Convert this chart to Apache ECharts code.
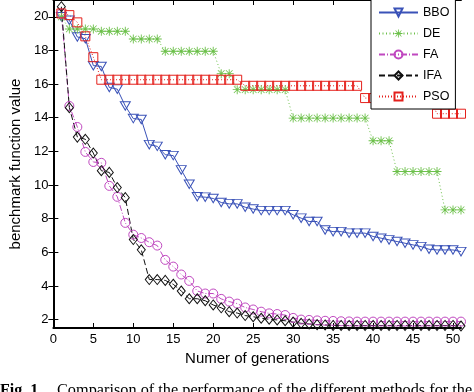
<!DOCTYPE html>
<html>
<head>
<meta charset="utf-8">
<script src="https://cdn.jsdelivr.net/npm/echarts@6/dist/echarts.min.js"></script>
<style>
html,body{margin:0;padding:0;background:#fff;}
#chart{width:474px;height:392px;}
</style>
</head>
<body>
<div id="chart"></div>
<script>
var gens = [1,2,3,4,5,6,7,8,9,10,11,12,13,14,15,16,17,18,19,20,21,22,23,24,25,26,27,28,29,30,31,32,33,34,35,36,37,38,39,40,41,42,43,44,45,46,47,48,49,50,51];
var xTicks = [0,5,10,15,20,25,30,35,40,45,50];
var yTicks = [2,4,6,8,10,12,14,16,18,20];

var bbo = [20.0,19.8,18.8,18.7,17.1,17.05,15.8,15.7,14.7,13.95,13.9,12.4,12.3,11.8,11.75,10.9,10.05,9.3,9.28,9.2,8.96,8.88,8.88,8.68,8.57,8.48,8.48,8.48,8.48,8.23,8.03,7.83,7.83,7.33,7.23,7.23,7.14,7.14,7.14,6.94,6.84,6.74,6.64,6.54,6.44,6.34,6.18,6.14,6.14,6.14,6.04];
var de = [20.0,19.28,19.28,19.28,19.28,19.14,19.14,19.14,19.14,18.68,18.68,18.68,18.68,17.95,17.95,17.95,17.95,17.95,17.95,17.95,16.62,16.62,15.67,15.67,15.67,15.67,15.67,15.67,15.67,13.98,13.98,13.98,13.98,13.98,13.98,13.98,13.98,13.98,13.98,12.63,12.63,12.63,10.8,10.8,10.8,10.8,10.8,10.8,8.52,8.52,8.52];
var fa = [20.2,14.7,13.45,11.97,11.37,11.32,9.95,9.3,7.75,7.05,6.85,6.6,6.4,5.55,5.15,4.68,4.3,3.7,3.55,3.55,3.23,3.07,2.95,2.72,2.6,2.47,2.37,2.33,2.27,2.1,2.0,1.98,1.95,1.93,1.92,1.9,1.89,1.88,1.88,1.88,1.88,1.88,1.88,1.88,1.88,1.88,1.88,1.88,1.88,1.88,1.88];
var ifa = [20.6,14.6,12.85,12.72,11.9,10.85,10.75,9.85,9.25,6.76,6.15,4.38,4.38,4.33,4.1,3.7,3.24,3.24,3.12,2.87,2.7,2.47,2.39,2.24,2.17,2.08,2.02,1.98,1.93,1.85,1.78,1.74,1.7,1.68,1.65,1.65,1.65,1.65,1.65,1.65,1.65,1.65,1.65,1.65,1.65,1.65,1.65,1.65,1.65,1.65,1.62];
var pso = [20.2,20.1,19.67,18.84,17.6,16.26,16.26,16.26,16.26,16.26,16.26,16.26,16.26,16.26,16.26,16.26,16.26,16.26,16.26,16.26,16.26,16.26,16.26,15.9,15.9,15.9,15.9,15.9,15.9,15.9,15.9,15.9,15.9,15.9,15.9,15.9,15.9,15.9,15.17,15.17,15.17,15.17,15.17,15.17,15.17,15.17,15.17,14.24,14.24,14.24,14.24];

function pairs(vals){ return gens.map(function(g,i){ return [g, vals[i]]; }); }

var FONT = '"Liberation Sans", Arial, sans-serif';
var starPath = 'path://M4.5,0 L5.5,0 L5.5,4.5 L10,4.5 L10,5.5 L5.5,5.5 L5.5,10 L4.5,10 L4.5,5.5 L0,5.5 L0,4.5 L4.5,4.5 Z M1.6,1.0 L9.0,8.4 L8.4,9.0 L1.0,1.6 Z M8.4,1.0 L9.0,1.6 L1.6,9.0 L1.0,8.4 Z';
var triDown = 'path://M0,0 L10,0 L5,8.5 Z';

function mk(name, vals, color, lineType, symbol, size, fillSym){
  return {
    name: name, type: 'line', data: pairs(vals),
    symbol: symbol, symbolSize: size, showAllSymbol: true,
    lineStyle: {color: color, width: 1, type: lineType},
    itemStyle: fillSym ? {color: color, borderWidth: 0} : {color: 'transparent', borderColor: color, borderWidth: 1},
    emphasis: {disabled: true}
  };
}

var chart = echarts.init(document.getElementById('chart'), null, {renderer: 'canvas'});
var axisLineStyle = {color: '#000', width: 2};
chart.setOption({
  animation: false,
  backgroundColor: '#fff',
  grid: {left: 44, right: 13, top: -1, bottom: 64, containLabel: false},
  legend: {
    orient: 'vertical', left: 371, top: -2,
    padding: [8, 6, 6, 7],
    itemWidth: 39, itemHeight: 10, itemGap: 8,
    backgroundColor: '#fff', borderColor: '#000', borderWidth: 1,
    textStyle: {fontFamily: FONT, fontSize: 12.5, color: '#000'},
    data: ['BBO','DE','FA','IFA','PSO']
  },
  xAxis: [{
    type: 'value', min: 0, max: 51, position: 'bottom',
    name: 'Numer of generations', nameLocation: 'middle', nameGap: 20,
    nameTextStyle: {fontFamily: FONT, fontSize: 15, color: '#000'},
    axisLine: {lineStyle: axisLineStyle},
    axisTick: {inside: true, length: 5, customValues: xTicks, lineStyle: {color: '#000'}},
    axisLabel: {customValues: xTicks, fontFamily: FONT, fontSize: 13, color: '#000', margin: 5},
    splitLine: {show: false}
  },{
    type: 'value', min: 0, max: 51, position: 'top',
    axisLine: {lineStyle: axisLineStyle},
    axisTick: {inside: true, length: 5, customValues: xTicks, lineStyle: {color: '#000'}},
    axisLabel: {show: false},
    splitLine: {show: false}
  }],
  yAxis: [{
    type: 'value', min: 1.5, max: 21, position: 'left',
    name: 'benchmark function value', nameLocation: 'middle', nameGap: 25,
    nameTextStyle: {fontFamily: FONT, fontSize: 15, color: '#000'},
    axisLine: {show: true, lineStyle: axisLineStyle},
    axisTick: {show: true, inside: true, length: 5, customValues: yTicks, lineStyle: {color: '#000'}},
    axisLabel: {customValues: yTicks, fontFamily: FONT, fontSize: 13, color: '#000', margin: 5},
    splitLine: {show: false}
  },{
    type: 'value', min: 1.5, max: 21, position: 'right',
    axisLine: {show: true, lineStyle: axisLineStyle},
    axisTick: {show: true, inside: true, length: 5, customValues: yTicks, lineStyle: {color: '#000'}},
    axisLabel: {show: false},
    splitLine: {show: false}
  }],
  series: [
    mk('BBO', bbo, '#3a52b8', 'solid', triDown, [10, 8.5]),
    mk('DE', de, '#6cc04a', [1, 2.5], starPath, 9, true),
    mk('FA', fa, '#c048c0', [6, 2, 1, 2], 'circle', 9),
    mk('IFA', ifa, '#111111', [6, 3], 'diamond', [8, 10]),
    mk('PSO', pso, '#e4201c', [1, 2], 'rect', [9, 9])
  ],
  graphic: [
    {type: 'text', left: 0, top: 383, style: {text: 'Fig. 1', font: 'bold 16px "Liberation Serif", serif', fill: '#000'}},
    {type: 'text', left: 57, top: 383, style: {text: 'Comparison of the performance of the different methods for the', font: '16.3px "Liberation Serif", serif', fill: '#000'}}
  ]
});
</script>
</body>
</html>
